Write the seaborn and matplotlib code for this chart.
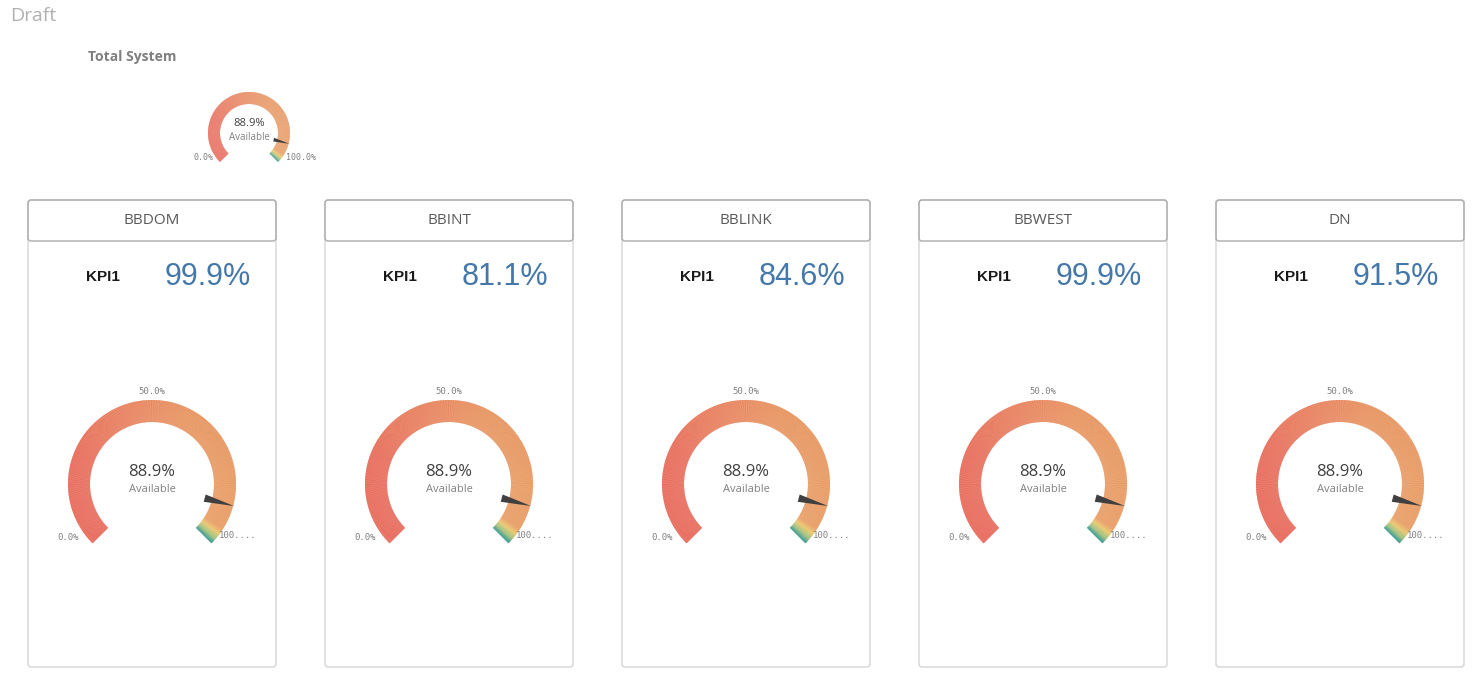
import numpy as np
import matplotlib
matplotlib.use("Agg")
import matplotlib.pyplot as plt
import seaborn as sns
from matplotlib.patches import Wedge, FancyBboxPatch, Polygon
from matplotlib.colors import LinearSegmentedColormap

# ---- data ----
regions = ["BBDOM", "BBINT", "BBLINK", "BBWEST", "DN"]
kpi_values = [99.9, 81.1, 84.6, 99.9, 91.5]
kpi_label = "KPI1"
gauge_value = 88.9          # % available (all gauges)
total_value = 88.9
gauge_min, gauge_mid, gauge_max = 0.0, 50.0, 100.0

sns.set_theme(style="white")
cmap = LinearSegmentedColormap.from_list("g", [
    (0.0, "#E8695A"), (0.25, "#E86C5A"), (0.6, "#E8945F"), (0.955, "#E99C63"),
    (0.972, "#EBC66B"), (0.986, "#A6C27A"), (1.0, "#3A9A8C")])

fig = plt.figure(figsize=(14.76, 6.74), dpi=100)
ax = fig.add_axes([0, 0, 1, 1])
ax.set_xlim(0, 1476); ax.set_ylim(674, 0); ax.set_aspect("equal"); ax.axis("off")

def gauge(cx, cy, R, r, val, big=True):
    n = 540
    for i in range(n):
        t0, t1 = i / n, (i + 1) / n
        a0 = -(225 - t0 * 270); a1 = -(225 - t1 * 270)
        lo = min(a0, a1) - (0.2 if i > 0 else 0)
        ax.add_patch(Wedge((cx, cy), R, lo, max(a0, a1), width=R - r,
                           color=cmap((t0 + t1) / 2), lw=0))
    ang = np.deg2rad(225 - val / 100 * 270)
    ux, uy = np.cos(ang), -np.sin(ang)
    px, py = -uy, ux
    base = r * 0.88; w = R * 0.045
    pts = [(cx + ux * (R + 1), cy + uy * (R + 1)),
           (cx + ux * base + px * w, cy + uy * base + py * w),
           (cx + ux * base - px * w, cy + uy * base - py * w)]
    ax.add_patch(Polygon(pts, closed=True, color="#404040", lw=0, zorder=5))
    fs = 12 if big else 8
    ax.text(cx, cy - (12 if big else 9), f"{val:.1f}%", ha="center", va="center",
            fontsize=fs, color="#404040", family="Open Sans")
    ax.text(cx, cy + (5 if big else 4), "Available", ha="center", va="center",
            fontsize=(8 if big else 7), color="#808080", family="Open Sans")
    mono = dict(family="DejaVu Sans Mono", fontsize=(6.5 if big else 6), color="#808080",
                ha="center", va="center")
    if big:
        ax.text(cx - 84, cy + 53, f"{gauge_min:.1f}%", **mono)
        ax.text(cx, cy - 93, f"{gauge_mid:.1f}%", **mono)
        ax.text(cx + 86, cy + 52, "100....", **mono)
    else:
        ax.text(cx - 45, cy + 25, f"{gauge_min:.1f}%", **mono)
        ax.text(cx + 52, cy + 24, f"{gauge_max:.1f}%", **mono)

ax.text(10, 16, "Draft", fontsize=14, color="#b0b0b0", va="center", family="Open Sans")
ax.text(88, 57, "Total System", fontsize=10, color="#7f7f7f", va="center",
        fontweight="bold", family="Open Sans")
gauge(249, 133, 41, 29, total_value, big=False)

for i, (name, kv) in enumerate(zip(regions, kpi_values)):
    x0 = 28 + i * 297
    cx = x0 + 124
    ax.add_patch(FancyBboxPatch((x0, 200), 248, 467, boxstyle="round,pad=0,rounding_size=3",
                                fc="white", ec="#d4d4d4", lw=1))
    ax.add_patch(FancyBboxPatch((x0, 200), 248, 41, boxstyle="round,pad=0,rounding_size=3",
                                fc="none", ec="#ababab", lw=1))
    ax.text(cx, 220, name, ha="center", va="center", fontsize=11, color="#595959",
            family="Open Sans")
    ax.text(x0 + 75, 277, kpi_label, ha="center", va="center", fontsize=11,
            fontweight="bold", color="#1a1a1a", family="Liberation Sans")
    ax.text(x0 + 180, 277, f"{kv:.1f}%", ha="center", va="center", fontsize=22,
            color="#4477aa", family="Liberation Sans")
    gauge(cx, 484, 84, 62, gauge_value, big=True)

fig.savefig("out.png", dpi=100, facecolor="white")
